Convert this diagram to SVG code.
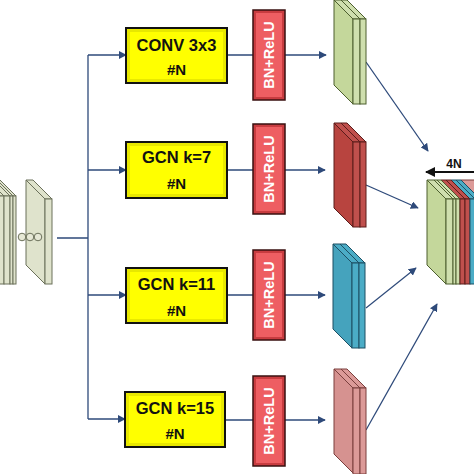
<svg xmlns="http://www.w3.org/2000/svg" width="474" height="474" viewBox="0 0 474 474">
<style>
.ln{stroke:#2e4a7a;stroke-width:1.3;fill:none}
.arr{marker-end:url(#ah)}
.yo{fill:#e8e800;stroke:#111;stroke-width:2}
.yi{fill:#ffff00}
.ro{fill:#c83c40;stroke:#3a1010;stroke-width:1.5}
.ri{fill:#ee5e62}
.t1{font-family:"Liberation Sans",Arial,sans-serif;font-weight:bold;font-size:16.5px;fill:#111;text-anchor:middle}
.t2{font-family:"Liberation Sans",Arial,sans-serif;font-weight:bold;font-size:15px;fill:#111;text-anchor:middle}
.tb{font-family:"Liberation Sans",Arial,sans-serif;font-weight:bold;font-size:14.5px;fill:#fff;text-anchor:middle}
.g{fill:#cfdfae;stroke:#4d5f2e;stroke-width:1}
.gs{fill:#c4d79b;stroke:#4d5f2e;stroke-width:1}
.r{fill:#c0504d;stroke:#5a1c1a;stroke-width:1}
.rs{fill:#b8443f;stroke:#5a1c1a;stroke-width:1}
.b{fill:#4bacc6;stroke:#1d4f63;stroke-width:1}
.bs{fill:#45a3bd;stroke:#1d4f63;stroke-width:1}
.p{fill:#dc9a98;stroke:#7a3f3d;stroke-width:1}
.ps{fill:#d69290;stroke:#7a3f3d;stroke-width:1}
.e{fill:#dfe3cc;stroke:#6b705a;stroke-width:1}
</style>
<defs>
<marker id="ah" viewBox="0 0 10 10" refX="9" refY="5" markerWidth="8" markerHeight="8" markerUnits="userSpaceOnUse" orient="auto">
<path d="M0,0 L10,5 L0,10 z" fill="#2e4a7a"/>
</marker>
<marker id="ak" viewBox="0 0 10 10" refX="9" refY="5" markerWidth="10" markerHeight="10" markerUnits="userSpaceOnUse" orient="auto">
<path d="M0,0 L10,5 L0,10 z" fill="#111"/>
</marker>
</defs>

<g id="connectors">
<path class="ln" d="M57,238 H88 M88,55 V419"/>
<path class="ln arr" d="M88,55 H126"/>
<path class="ln arr" d="M88,170 H126"/>
<path class="ln arr" d="M88,295 H126"/>
<path class="ln arr" d="M88,419 H125"/>
<path class="ln" d="M227,55 H253 M227,170 H253 M227,295 H253 M225,420 H253"/>
<path class="ln arr" d="M285,55 H326"/>
<path class="ln arr" d="M285,170 H325"/>
<path class="ln arr" d="M285,295 H325"/>
<path class="ln arr" d="M285,420 H325"/>
<path class="ln arr" d="M366,62 L428,151"/>
<path class="ln arr" d="M366,185 L418,208"/>
<path class="ln arr" d="M366,308 L416,268"/>
<path class="ln arr" d="M366,430 L437,304"/>
</g>

<g id="input">
<polygon class="e" points="-22,177 -3,177 16,196 -3,196"/>
<line x1="-15" y1="177" x2="4" y2="196" stroke="#6b705a"/>
<line x1="-9" y1="177" x2="10" y2="196" stroke="#6b705a"/>
<line x1="-6" y1="177" x2="13" y2="196" stroke="#6b705a"/>
<rect class="e" x="-2" y="196" width="6" height="88"/>
<rect class="e" x="4" y="196" width="6" height="88"/>
<rect class="e" x="10" y="196" width="3" height="88"/>
<rect class="e" x="13" y="196" width="3" height="88"/>
<polygon class="e" points="26,180 45,199 45,284 26,265"/>
<polygon class="e" points="26,180 33,180 52,199 45,199"/>
<rect class="e" x="45" y="199" width="7" height="85"/>
<circle cx="22" cy="237" r="3.8" fill="#e6e8d6" stroke="#6b705a"/>
<circle cx="30" cy="237" r="3.8" fill="#e6e8d6" stroke="#6b705a"/>
<circle cx="38" cy="237" r="3.8" fill="#e6e8d6" stroke="#6b705a"/>
</g>

<g id="conv3">
<rect class="yo" x="126" y="28" width="101" height="55"/>
<rect class="yi" x="130" y="32" width="93" height="47"/>
<text class="t1" x="176.5" y="51">CONV 3x3</text>
<text class="t2" x="176.5" y="75">#N</text>
</g>
<g id="gcn7">
<rect class="yo" x="126" y="142" width="101" height="56"/>
<rect class="yi" x="130" y="146" width="93" height="48"/>
<text class="t1" x="176.5" y="163">GCN k=7</text>
<text class="t2" x="176.5" y="189">#N</text>
</g>
<g id="gcn11">
<rect class="yo" x="126" y="268" width="101" height="55"/>
<rect class="yi" x="130" y="272" width="93" height="47"/>
<text class="t1" x="176.5" y="290">GCN k=11</text>
<text class="t2" x="176.5" y="316">#N</text>
</g>
<g id="gcn15">
<rect class="yo" x="125" y="392" width="100" height="55"/>
<rect class="yi" x="129" y="396" width="92" height="47"/>
<text class="t1" x="175" y="414">GCN k=15</text>
<text class="t2" x="175" y="439">#N</text>
</g>

<g id="bn1">
<rect class="ro" x="253" y="10" width="32" height="90"/>
<rect class="ri" x="256" y="13" width="26" height="84"/>
<text class="tb" transform="translate(274,55) rotate(-90)">BN+ReLU</text>
</g>
<g id="bn2">
<rect class="ro" x="253" y="124" width="32" height="90"/>
<rect class="ri" x="256" y="127" width="26" height="84"/>
<text class="tb" transform="translate(274,169) rotate(-90)">BN+ReLU</text>
</g>
<g id="bn3">
<rect class="ro" x="253" y="250" width="32" height="90"/>
<rect class="ri" x="256" y="253" width="26" height="84"/>
<text class="tb" transform="translate(274,295) rotate(-90)">BN+ReLU</text>
</g>
<g id="bn4">
<rect class="ro" x="253" y="376" width="32" height="90"/>
<rect class="ri" x="256" y="379" width="26" height="84"/>
<text class="tb" transform="translate(274,421) rotate(-90)">BN+ReLU</text>
</g>

<g id="fmap1">
<polygon class="gs" points="334,0 353,19 353,104 334,85"/>
<polygon class="g" points="334,0 347,0 366,19 353,19"/>
<line x1="341" y1="0" x2="360" y2="19" stroke="#4d5f2e"/>
<rect class="g" x="353" y="19" width="7" height="85"/>
<rect class="g" x="360" y="19" width="6" height="85"/>
</g>
<g id="fmap2">
<polygon class="rs" points="334,123 353,142 353,227 334,208"/>
<polygon class="r" points="334,123 347,123 366,142 353,142"/>
<line x1="341" y1="123" x2="360" y2="142" stroke="#5a1c1a"/>
<rect class="r" x="353" y="142" width="7" height="85"/>
<rect class="r" x="360" y="142" width="6" height="85"/>
</g>
<g id="fmap3">
<polygon class="bs" points="333,244 352,263 352,348 333,329"/>
<polygon class="b" points="333,244 346,244 365,263 352,263"/>
<line x1="340" y1="244" x2="359" y2="263" stroke="#1d4f63"/>
<rect class="b" x="352" y="263" width="7" height="85"/>
<rect class="b" x="359" y="263" width="6" height="85"/>
</g>
<g id="fmap4">
<polygon class="ps" points="334,369 353,388 353,473 334,454"/>
<polygon class="p" points="334,369 347,369 366,388 353,388"/>
<line x1="341" y1="369" x2="360" y2="388" stroke="#7a3f3d"/>
<rect class="p" x="353" y="388" width="7" height="86"/>
<rect class="p" x="360" y="388" width="6" height="86"/>
</g>

<g id="concat">
<polygon class="p" points="461,180 480,180 499,199 480,199"/>
<polygon class="b" points="451,180 461,180 480,199 470,199"/>
<polygon class="r" points="441,180 451,180 470,199 460,199"/>
<line x1="446" y1="180" x2="465" y2="199" stroke="#5a1c1a"/>
<line x1="456" y1="180" x2="475" y2="199" stroke="#1d4f63"/>
<polygon class="gs" points="427,180 446,199 446,284 427,265"/>
<polygon class="g" points="427,180 441,180 460,199 446,199"/>
<line x1="434" y1="180" x2="453" y2="199" stroke="#4d5f2e"/>
<line x1="437" y1="180" x2="456" y2="199" stroke="#4d5f2e"/>
<rect class="g" x="446" y="199" width="7" height="85"/>
<rect class="g" x="453" y="199" width="3" height="85"/>
<rect class="g" x="456" y="199" width="4" height="85"/>
<rect class="r" x="460" y="199" width="5" height="85"/>
<rect class="r" x="465" y="199" width="5" height="85"/>
<rect class="b" x="470" y="199" width="5" height="85"/>
<line x1="474" y1="172" x2="426" y2="172" stroke="#111" stroke-width="1.8" marker-end="url(#ak)"/>
<text x="454" y="168" font-family="'Liberation Sans',Arial,sans-serif" font-weight="bold" font-size="12" fill="#111" text-anchor="middle">4N</text>
</g>
</svg>
